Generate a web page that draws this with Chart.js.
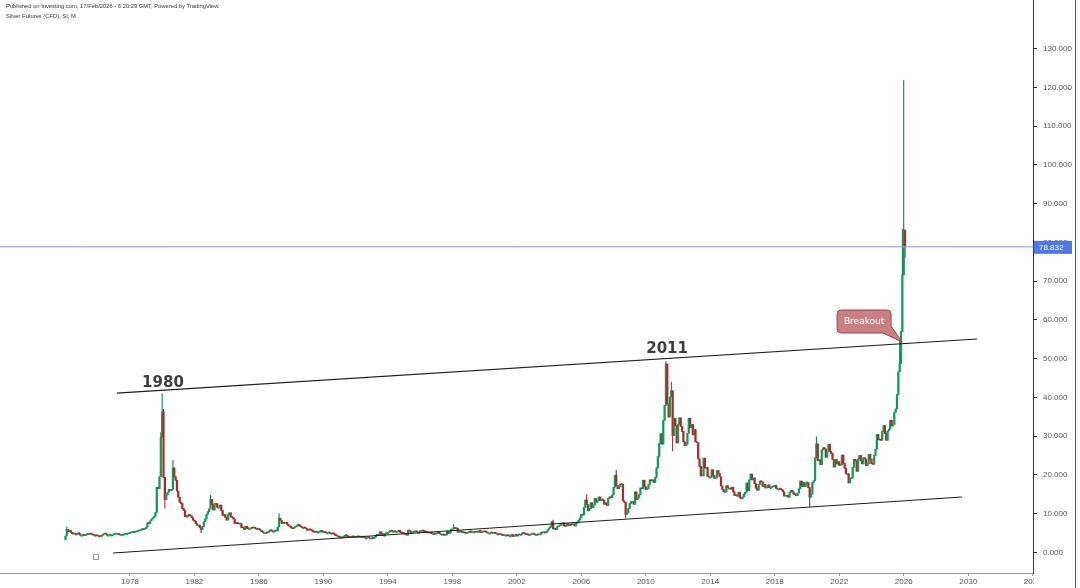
<!DOCTYPE html>
<html>
<head>
<meta charset="utf-8">
<script src="https://cdn.jsdelivr.net/npm/chart.js@4.4.1/dist/chart.umd.min.js"></script>
<style>
html, body { margin: 0; padding: 0; background: #fff; }
#wrap { position: relative; width: 1080px; height: 588px; }
</style>
</head>
<body>
<div id="wrap"><canvas id="silverChart"></canvas></div>
<script>
const startYear = 1974;
const firstOpen = 3.3;
// monthly closes, one row per year, Jan..Dec
const monthlyClose = [
  4.2, 5.9, 5.4, 5.6, 5.2, 4.8, 4.7, 4.8, 4.5, 4.9, 4.8, 4.4,          // 1974
  4.4, 4.5, 4.3, 4.5, 4.7, 4.6, 4.8, 4.7, 4.5, 4.4, 4.4, 4.3,          // 1975
  4.2, 4.2, 4.1, 4.4, 4.7, 4.8, 4.7, 4.4, 4.4, 4.5, 4.5, 4.5,          // 1976
  4.6, 4.7, 4.8, 4.8, 4.6, 4.6, 4.6, 4.6, 4.7, 4.8, 4.8, 4.9,          // 1977
  5.0, 5.1, 5.3, 5.1, 5.3, 5.4, 5.5, 5.6, 5.8, 6.0, 5.9, 6.1,          // 1978
  6.5, 7.6, 7.4, 8.1, 8.6, 8.9, 9.3, 10.3, 16.8, 16.4, 19.5, 29.7,     // 1979
  36.2, 19.3, 13.6, 14.8, 15.5, 16.2, 15.9, 16.2, 21.8, 19.5, 18.6, 15.8, // 1980
  14.2, 12.9, 12.6, 11.3, 10.8, 9.2, 9.1, 9.6, 9.5, 9.4, 8.9, 8.3,     // 1981
  8.0, 7.4, 7.0, 7.0, 6.3, 5.9, 6.7, 7.9, 8.6, 9.8, 10.5, 11.2,        // 1982
  13.7, 12.3, 10.9, 12.6, 12.6, 11.6, 11.6, 12.2, 10.8, 9.5, 9.7, 9.0, // 1983
  8.3, 9.8, 10.2, 9.1, 9.0, 8.6, 7.4, 7.7, 7.4, 7.3, 7.4, 6.4,         // 1984
  6.3, 5.9, 6.7, 6.2, 6.1, 6.1, 6.2, 6.4, 6.3, 6.2, 6.0, 5.9,          // 1985
  6.0, 5.7, 5.3, 5.1, 5.1, 5.1, 5.0, 5.3, 5.7, 5.6, 5.4, 5.4,          // 1986
  5.6, 5.5, 6.5, 8.8, 8.2, 7.4, 7.7, 7.5, 7.7, 7.2, 6.8, 6.8,          // 1987
  6.3, 6.1, 6.4, 6.6, 6.8, 7.2, 6.9, 6.6, 6.4, 6.4, 6.3, 6.1,          // 1988
  5.7, 5.9, 5.8, 5.7, 5.3, 5.2, 5.3, 5.2, 5.2, 5.3, 5.6, 5.2,          // 1989
  5.3, 5.1, 5.0, 5.0, 5.1, 4.9, 4.9, 4.8, 4.7, 4.3, 4.2, 4.2,          // 1990
  3.9, 3.7, 3.9, 4.0, 4.4, 4.3, 4.0, 3.9, 4.1, 4.1, 4.0, 3.9,          // 1991
  4.1, 4.1, 4.0, 3.9, 4.0, 4.0, 3.9, 3.7, 3.7, 3.8, 3.7, 3.7,          // 1992
  3.7, 3.6, 3.9, 4.4, 4.5, 4.4, 5.3, 4.9, 4.3, 4.2, 4.9, 5.1,          // 1993
  5.1, 5.3, 5.7, 5.4, 5.4, 5.3, 5.2, 5.3, 5.7, 5.2, 5.0, 4.9,          // 1994
  4.8, 4.6, 4.4, 5.7, 5.5, 5.1, 5.1, 5.3, 5.4, 5.3, 5.2, 5.2,          // 1995
  5.6, 5.6, 5.5, 5.4, 5.3, 5.1, 5.0, 5.2, 4.9, 4.8, 4.8, 4.7,          // 1996
  4.8, 5.2, 5.0, 4.7, 4.7, 4.7, 4.4, 4.5, 5.4, 4.8, 5.2, 6.0,          // 1997
  6.0, 6.4, 6.1, 6.2, 5.2, 5.5, 5.5, 5.1, 5.2, 5.0, 4.9, 5.0,          // 1998
  5.1, 5.5, 5.1, 5.3, 5.3, 5.2, 5.3, 5.2, 5.6, 5.1, 5.2, 5.4,          // 1999
  5.3, 5.2, 5.0, 5.0, 5.0, 5.1, 4.9, 5.0, 4.9, 4.7, 4.7, 4.6,          // 2000
  4.7, 4.4, 4.3, 4.4, 4.4, 4.3, 4.2, 4.2, 4.6, 4.1, 4.2, 4.6,          // 2001
  4.2, 4.5, 4.6, 4.6, 5.0, 4.9, 4.7, 4.6, 4.5, 4.4, 4.6, 4.7,          // 2002
  4.8, 4.6, 4.4, 4.6, 4.5, 4.6, 5.1, 5.0, 5.2, 5.0, 5.4, 5.9,          // 2003
  6.3, 6.7, 7.9, 6.0, 6.1, 5.9, 6.6, 6.8, 7.0, 7.3, 7.6, 6.8,          // 2004
  6.7, 7.4, 7.1, 6.9, 7.3, 7.1, 7.3, 6.8, 7.5, 7.8, 8.3, 8.9,          // 2005
  9.8, 9.6, 11.6, 13.5, 12.3, 10.7, 11.3, 12.8, 11.5, 12.2, 13.9, 12.9, // 2006
  13.4, 14.3, 13.3, 13.6, 13.5, 12.4, 12.8, 12.1, 13.9, 14.3, 14.1, 14.8, // 2007
  16.8, 19.9, 17.2, 16.4, 16.9, 17.6, 17.5, 13.3, 12.9, 9.8, 10.3, 11.3, // 2008
  12.6, 13.1, 13.1, 12.4, 15.6, 13.6, 14.0, 14.9, 16.6, 16.4, 18.6, 16.9, // 2009
  16.2, 16.4, 17.5, 18.7, 18.4, 18.7, 18.0, 19.3, 21.8, 24.7, 28.1, 30.6, // 2010
  27.9, 34.0, 37.9, 48.6, 38.3, 34.9, 40.1, 41.7, 30.1, 34.6, 32.7, 28.2, // 2011
  33.1, 34.7, 32.5, 31.2, 28.5, 27.5, 27.9, 30.7, 34.6, 32.2, 33.0, 30.3, // 2012
  31.7, 28.5, 28.3, 24.1, 22.2, 19.7, 19.8, 24.3, 21.7, 21.9, 19.6, 19.4, // 2013
  19.4, 21.3, 19.8, 19.1, 19.2, 21.1, 20.4, 19.5, 17.1, 16.2, 15.6, 15.6, // 2014
  17.2, 16.6, 16.6, 16.3, 16.8, 15.6, 14.7, 14.6, 14.5, 15.5, 14.1, 13.8, // 2015
  14.3, 15.0, 15.5, 17.9, 15.9, 18.7, 20.2, 18.7, 19.2, 17.7, 16.5, 16.0, // 2016
  17.5, 18.4, 18.2, 17.0, 17.5, 16.6, 16.7, 17.4, 16.7, 16.7, 16.9, 17.0, // 2017
  17.3, 16.5, 16.3, 16.3, 16.4, 16.1, 15.6, 14.5, 14.7, 14.7, 14.2, 15.5, // 2018
  16.0, 15.6, 15.0, 14.9, 14.6, 15.3, 16.4, 18.4, 17.0, 18.0, 17.0, 17.9, // 2019
  18.0, 16.7, 14.2, 15.0, 18.0, 18.5, 24.4, 28.0, 23.6, 23.9, 22.6, 26.4, // 2020
  27.0, 26.7, 24.5, 25.9, 27.9, 26.1, 25.5, 24.0, 22.0, 24.0, 22.8, 23.4, // 2021
  22.4, 22.6, 25.1, 23.0, 21.7, 20.3, 20.3, 17.9, 19.0, 19.2, 21.9, 24.0, // 2022
  23.6, 20.9, 24.1, 25.0, 23.6, 22.8, 24.4, 24.1, 22.4, 22.9, 25.3, 24.1, // 2023
  22.9, 22.7, 25.0, 26.6, 30.4, 29.1, 29.0, 28.9, 31.2, 32.7, 30.6, 28.9, // 2024
  31.3, 31.8, 34.1, 32.6, 33.0, 36.1, 37.0, 40.7, 46.6, 48.7, 57.0, 71.6, // 2025
  83.0, 78.832                                                          // 2026
];
// months whose wick reaches beyond the body
const wickHighs = {
  '1974-02': 6.6, '1979-12': 31.0, '1980-01': 41.0, '1980-02': 37.0, '1980-03': 19.5,
  '1980-09': 23.8, '1983-01': 14.8, '1987-04': 10.1, '1998-02': 7.3, '2004-04': 8.4,
  '2006-05': 14.9, '2008-03': 21.3, '2011-04': 49.4, '2011-08': 44.0, '2020-08': 29.9,
  '2025-10': 54.5, '2025-12': 83.5, '2026-01': 121.8, '2026-02': 83.4
};
const wickLows = {
  '1980-03': 11.4, '1982-06': 5.0, '1993-02': 3.5, '2008-10': 8.8,
  '2011-09': 26.1, '2020-03': 11.7, '2026-02': 76.0
};
const yearTicks = [1978, 1982, 1986, 1990, 1994, 1998, 2002, 2006, 2010, 2014, 2018, 2022, 2026, 2030, 2034];
const priceTicks = [0, 10, 20, 30, 40, 50, 60, 70, 80, 90, 100, 110, 120, 130];
const lastPrice = 78.832;
const channelTop = [{x: 1977.19, y: 41.1}, {x: 2030.54, y: 55.05}];
const channelBottom = [{x: 1976.95, y: -0.18}, {x: 2029.61, y: 14.27}];

const xMin = 1969.94, xMax = 2034.02;
const upColor = '#169a5c', downColor = '#a52d2d';
const upWick = '#0e6a40', downWick = '#7c1f1f';

const wickData = [], bodyData = [], bodyColors = [], wickColors = [];
let prevClose = firstOpen;
monthlyClose.forEach((close, i) => {
  const year = startYear + Math.floor(i / 12);
  const month = i % 12;
  const key = year + '-' + String(month + 1).padStart(2, '0');
  const open = prevClose;
  const high = Math.max(open, close, wickHighs[key] || 0);
  const low = Math.min(open, close, wickLows[key] || Infinity);
  const t = year + month / 12;
  bodyData.push({x: t, y: [open, close]});
  wickData.push({x: t, y: [low, high]});
  const up = close >= open;
  bodyColors.push(up ? upColor : downColor);
  wickColors.push(up ? upWick : downWick);
  prevClose = close;
});

const axisFont = {family: 'Liberation Sans', size: 8};

const overlay = {
  id: 'overlay',
  afterDraw(chart) {
    const {ctx, chartArea, scales: {x, y}} = chart;
    ctx.save();

    // cover the part of the last year label under the price scale
    ctx.fillStyle = '#fff';
    ctx.fillRect(chartArea.right + 1, chartArea.bottom + 1, 45, 20);

    // header
    ctx.fillStyle = '#333';
    ctx.font = '5.8px "Liberation Sans"';
    ctx.textAlign = 'left';
    ctx.textBaseline = 'middle';
    ctx.fillText('Published on Investing.com, 17/Feb/2026 - 6:20:29 GMT, Powered by TradingView.', 6, 6);
    ctx.fillText('Silver Futures (CFD), SI, M', 6, 16);

    // peak labels
    ctx.fillStyle = '#3d3d3d';
    ctx.font = 'bold 15px "DejaVu Sans"';
    ctx.textAlign = 'center';
    ctx.fillText('1980', x.getPixelForValue(1980.05), y.getPixelForValue(43.7));
    ctx.fillText('2011', x.getPixelForValue(2011.32), y.getPixelForValue(52.5));

    // breakout callout
    const tipX = x.getPixelForValue(2025.9), tipY = y.getPixelForValue(54.27);
    const bx = tipX - 65, by = tipY - 32, bw = 54, bh = 23, r = 4;
    ctx.beginPath();
    ctx.moveTo(bx + r, by);
    ctx.lineTo(bx + bw - r, by);
    ctx.arcTo(bx + bw, by, bx + bw, by + r, r);
    ctx.lineTo(bx + bw, by + bh - 7);
    ctx.lineTo(tipX, tipY);
    ctx.lineTo(bx + bw - 8, by + bh);
    ctx.lineTo(bx + r, by + bh);
    ctx.arcTo(bx, by + bh, bx, by + bh - r, r);
    ctx.lineTo(bx, by + r);
    ctx.arcTo(bx, by, bx + r, by, r);
    ctx.closePath();
    ctx.fillStyle = '#c98084';
    ctx.fill();
    ctx.strokeStyle = '#a3434a';
    ctx.lineWidth = 1;
    ctx.stroke();
    ctx.fillStyle = '#fff';
    ctx.font = '9px "DejaVu Sans"';
    ctx.fillText('Breakout', bx + bw / 2, by + bh / 2 + 0.5);

    // last price tag
    const py = y.getPixelForValue(lastPrice);
    ctx.fillStyle = '#4d78e6';
    ctx.fillRect(chartArea.right + 1, py - 6, 38, 13);
    ctx.fillStyle = '#fff';
    ctx.font = '8px "Liberation Sans"';
    ctx.textAlign = 'left';
    ctx.fillText(lastPrice.toFixed(3), chartArea.right + 6, py + 0.5);

    // small logo mark and right frame
    ctx.strokeStyle = '#999';
    ctx.strokeRect(93.5, 554.5, 5, 5);
    ctx.fillStyle = '#5c5563';
    ctx.fillRect(1075, 0, 1, 588);
    ctx.restore();
  }
};

new Chart(document.getElementById('silverChart'), {
  type: 'bar',
  data: {
    datasets: [
      {
        type: 'line', data: [{x: xMin, y: lastPrice}, {x: xMax, y: lastPrice}],
        borderColor: '#7f9ae6', borderWidth: 1, pointRadius: 0, order: 0
      },
      {
        type: 'line', data: channelTop,
        borderColor: '#1d1d1d', borderWidth: 1.2, pointRadius: 0, order: 1
      },
      {
        type: 'line', data: channelBottom,
        borderColor: '#1d1d1d', borderWidth: 1.2, pointRadius: 0, order: 1
      },
      {
        data: bodyData, backgroundColor: bodyColors,
        barThickness: 1.6, minBarLength: 1, grouped: false, order: 2
      },
      {
        data: wickData, backgroundColor: wickColors,
        barThickness: 1, inflateAmount: 0, grouped: false, order: 3
      }
    ]
  },
  options: {
    responsive: true,
    maintainAspectRatio: false,
    animation: false,
    events: [],
    layout: {padding: 0},
    plugins: {legend: {display: false}, tooltip: {enabled: false}},
    scales: {
      x: {
        type: 'linear', min: xMin, max: xMax, offset: false,
        afterBuildTicks: s => { s.ticks = yearTicks.map(v => ({value: v})); },
        afterFit: s => { s.height = 15; s.paddingLeft = 0; s.paddingRight = 0; },
        ticks: {callback: v => String(v), color: '#555', font: axisFont, padding: 1, maxRotation: 0, autoSkip: false},
        grid: {drawOnChartArea: false, offset: false, tickLength: 3, color: '#9a9a9a'},
        border: {color: '#9a9a9a'}
      },
      y: {
        position: 'right', min: -5.34, max: 142.53,
        afterBuildTicks: s => { s.ticks = priceTicks.map(v => ({value: v})); },
        afterFit: s => { s.width = 47; s.paddingTop = 0; s.paddingBottom = 0; },
        ticks: {callback: v => v.toFixed(3), color: '#555', font: axisFont, padding: 6},
        grid: {drawOnChartArea: false, tickLength: 4, color: '#333'},
        border: {color: '#333'}
      }
    }
  },
  plugins: [overlay]
});
</script>
</body>
</html>
